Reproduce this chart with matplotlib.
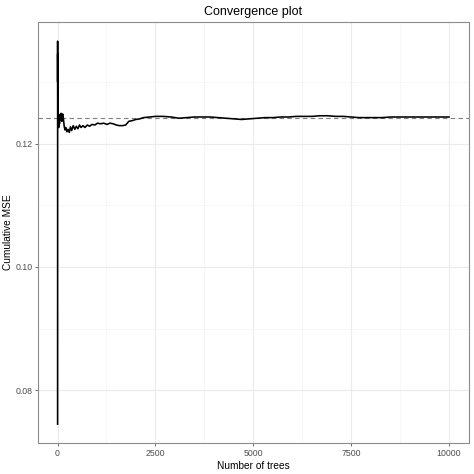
import matplotlib
matplotlib.use("Agg")
import matplotlib.pyplot as plt
from matplotlib.ticker import FixedLocator

# cumulative out-of-bag MSE
trees = [1, 2, 3, 4, 5, 6, 7, 8, 10, 12, 15, 20, 25, 30, 40, 50, 60, 75, 90,
         110, 130, 150, 170, 190, 210, 240, 270, 300, 330, 360, 400, 440, 480,
         520, 560, 600, 650, 700, 760, 820, 880, 950, 1020, 1100, 1180, 1260,
         1340, 1420, 1500, 1580, 1660, 1740, 1820, 1900, 2000, 2100, 2200,
         2350, 2500, 2700, 2900, 3100, 3300, 3500, 3700, 3900, 4100, 4300,
         4500, 4700, 4900, 5100, 5300, 5500, 5700, 5900, 6100, 6300, 6500,
         6700, 6900, 7100, 7300, 7500, 7700, 7900, 8100, 8300, 8500, 8700,
         8900, 9100, 9300, 9500, 9700, 9900, 10000]
mse = [0.0745, 0.1366, 0.1300, 0.1345, 0.1330, 0.1290, 0.1275, 0.1262,
       0.1255, 0.1245, 0.1238, 0.1230, 0.1236, 0.1226, 0.1240, 0.1232,
       0.1247, 0.1238, 0.1249, 0.1236, 0.1248, 0.1240, 0.1228, 0.1222,
       0.1226, 0.1219, 0.1223, 0.1218, 0.1227, 0.1221, 0.1229, 0.1223,
       0.1228, 0.1224, 0.1230, 0.1226, 0.1229, 0.1226, 0.1230, 0.1228,
       0.1231, 0.1230, 0.1233, 0.1232, 0.1233, 0.1231, 0.1233, 0.1232,
       0.1230, 0.1229, 0.1229, 0.1230, 0.1236, 0.1237, 0.1239, 0.1240,
       0.1242, 0.1243, 0.1244, 0.1244, 0.1243, 0.1241, 0.1242, 0.1243,
       0.1243, 0.1243, 0.1242, 0.1241, 0.1240, 0.1239, 0.1240, 0.1241,
       0.1242, 0.1242, 0.1243, 0.1243, 0.1244, 0.1244, 0.1244, 0.1245,
       0.1245, 0.1244, 0.1244, 0.1243, 0.1242, 0.1242, 0.1242, 0.1242,
       0.1243, 0.1243, 0.1243, 0.1243, 0.1243, 0.1243, 0.1243, 0.1243,
       0.1243]
final_mse = 0.1242

x_ticks = [0, 2500, 5000, 7500, 10000]
x_minor = [1250, 3750, 6250, 8750]
y_ticks = [0.08, 0.10, 0.12]
y_minor = [0.07, 0.09, 0.11, 0.13]

plt.rcParams["font.family"] = ["Liberation Sans", "DejaVu Sans"]

fig = plt.figure(figsize=(4.74, 4.74), dpi=100)
ax = fig.add_axes([0.0802, 0.0648, 0.9084, 0.8888])

ax.plot(trees, mse, color="black", lw=1.15, zorder=3)
ax.axhline(final_mse, color="#7f7f7f", lw=0.8, ls=(0, (4, 3)), zorder=2)

# ggplot-style 5% expansion
xr = max(trees) - min(trees)
yr = max(mse) - min(mse)
ax.set_xlim(min(trees) - 0.05 * xr, max(trees) + 0.05 * xr)
ax.set_ylim(min(mse) - 0.05 * yr, max(mse) + 0.05 * yr)

ax.set_xticks(x_ticks)
ax.set_xticklabels([str(t) for t in x_ticks])
ax.set_yticks(y_ticks)
ax.set_yticklabels([f"{t:.2f}" for t in y_ticks])
ax.xaxis.set_minor_locator(FixedLocator(x_minor))
ax.yaxis.set_minor_locator(FixedLocator(y_minor))

ax.grid(which="major", color="#ebebeb", lw=0.8, zorder=0)
ax.grid(which="minor", color="#f4f4f4", lw=0.5, zorder=0)
ax.set_axisbelow(True)
ax.tick_params(which="major", length=2.5, width=0.6, color="#555555",
               labelsize=6.3, labelcolor="#4d4d4d", pad=1.5)
ax.tick_params(which="minor", length=0)
for sp in ax.spines.values():
    sp.set_color("#8c8c8c")
    sp.set_linewidth(0.8)

ax.set_xlabel("Number of trees", fontsize=7.3)
ax.set_ylabel("Cumulative MSE", fontsize=7.3)
ax.xaxis.set_label_coords(0.5, -0.041)
ax.yaxis.set_label_coords(-0.059, 0.5)
ax.set_title("Convergence plot", fontsize=9, pad=5)

fig.savefig("out.png", dpi=100)
